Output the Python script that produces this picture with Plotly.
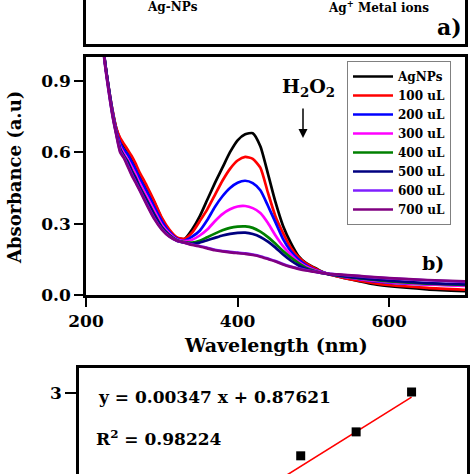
import plotly.graph_objects as go

W = 474.0
H = 474.0

# ---------------- data (panel b) ----------------
wavelength = [200, 210, 215, 220, 225, 230, 235, 240, 245, 250,
              255, 260, 265, 270, 280, 290, 300, 310, 320, 330,
              340, 350, 360, 370, 380, 390, 400, 410, 420, 430,
              440, 450, 460, 470, 480, 490, 500, 510, 520, 540,
              560, 580, 600, 650, 700]

agnps = [1.95, 1.55, 1.36, 1.14, 0.98, 0.87, 0.775, 0.70, 0.655, 0.628,
         0.605, 0.575, 0.545, 0.51, 0.45, 0.39, 0.32, 0.27, 0.24, 0.235,
         0.275, 0.33, 0.40, 0.47, 0.535, 0.60, 0.65, 0.675, 0.68, 0.625,
         0.51, 0.39, 0.29, 0.22, 0.165, 0.135, 0.117, 0.10, 0.088, 0.072,
         0.058, 0.045, 0.037, 0.024, 0.016]

ul100 = [1.95, 1.55, 1.36, 1.14, 0.98, 0.87, 0.775, 0.70, 0.66, 0.635,
         0.61, 0.585, 0.555, 0.52, 0.46, 0.395, 0.325, 0.275, 0.242, 0.236,
         0.262, 0.31, 0.36, 0.42, 0.48, 0.53, 0.565, 0.58, 0.572, 0.535,
         0.43, 0.33, 0.26, 0.20, 0.16, 0.133, 0.115, 0.099, 0.087, 0.072,
         0.06, 0.05, 0.042, 0.03, 0.022]

ul200 = [1.95, 1.55, 1.36, 1.14, 0.98, 0.87, 0.77, 0.69, 0.64, 0.61,
         0.59, 0.56, 0.53, 0.495, 0.435, 0.37, 0.31, 0.265, 0.237, 0.228,
         0.245, 0.27, 0.315, 0.37, 0.415, 0.45, 0.472, 0.48, 0.47, 0.44,
         0.375, 0.305, 0.235, 0.185, 0.15, 0.125, 0.108, 0.097, 0.088, 0.076,
         0.067, 0.058, 0.052, 0.045, 0.04]

ul300 = [1.95, 1.55, 1.36, 1.14, 0.98, 0.865, 0.765, 0.685, 0.625, 0.595,
         0.57, 0.54, 0.51, 0.475, 0.415, 0.355, 0.295, 0.258, 0.233, 0.226,
         0.232, 0.25, 0.275, 0.31, 0.34, 0.36, 0.372, 0.374, 0.365, 0.345,
         0.303, 0.25, 0.205, 0.17, 0.14, 0.12, 0.106, 0.096, 0.088, 0.077,
         0.068, 0.06, 0.054, 0.045, 0.038]

ul400 = [1.95, 1.55, 1.36, 1.14, 0.98, 0.865, 0.76, 0.68, 0.615, 0.585,
         0.56, 0.525, 0.495, 0.46, 0.40, 0.34, 0.285, 0.252, 0.23, 0.222,
         0.22, 0.228, 0.243, 0.258, 0.272, 0.282, 0.287, 0.288, 0.282, 0.266,
         0.243, 0.215, 0.185, 0.158, 0.135, 0.115, 0.103, 0.094, 0.088, 0.078,
         0.07, 0.063, 0.057, 0.048, 0.042]

ul500 = [1.95, 1.55, 1.36, 1.14, 0.98, 0.865, 0.76, 0.68, 0.612, 0.582,
         0.557, 0.522, 0.492, 0.457, 0.397, 0.337, 0.283, 0.25, 0.228, 0.22,
         0.215, 0.22, 0.23, 0.24, 0.25, 0.257, 0.261, 0.262, 0.256, 0.244,
         0.224, 0.199, 0.17, 0.145, 0.125, 0.11, 0.10, 0.093, 0.088, 0.079,
         0.072, 0.065, 0.06, 0.05, 0.045]

ul600 = [1.95, 1.55, 1.36, 1.13, 0.97, 0.855, 0.755, 0.675, 0.605, 0.578,
         0.545, 0.51, 0.478, 0.447, 0.383, 0.323, 0.277, 0.246, 0.228, 0.22,
         0.212, 0.206, 0.198, 0.19, 0.185, 0.181, 0.178, 0.175, 0.17, 0.163,
         0.153, 0.143, 0.13, 0.12, 0.112, 0.105, 0.099, 0.094, 0.09, 0.084,
         0.079, 0.074, 0.07, 0.062, 0.055]

ul700 = [1.95, 1.55, 1.36, 1.13, 0.97, 0.855, 0.752, 0.672, 0.60, 0.575,
         0.54, 0.505, 0.475, 0.445, 0.38, 0.32, 0.275, 0.245, 0.228, 0.22,
         0.21, 0.204, 0.196, 0.188, 0.183, 0.179, 0.176, 0.173, 0.168, 0.161,
         0.151, 0.141, 0.128, 0.118, 0.11, 0.103, 0.098, 0.093, 0.089, 0.085,
         0.08, 0.075, 0.071, 0.063, 0.057]

series_names = ["AgNPs", "100 uL", "200 uL", "300 uL", "400 uL", "500 uL", "600 uL", "700 uL"]
series_values = [agnps, ul100, ul200, ul300, ul400, ul500, ul600, ul700]
series_colors = ["#000000", "#ff0000", "#0000ff", "#ff00ff", "#008000", "#000080", "#7f1fff", "#800080"]

xticks_b = [200, 400, 600]
yticks_b = [0.0, 0.3, 0.6, 0.9]

# ---------------- data (panel c) ----------------
conc = [400, 500, 600]
response = [2.37, 2.61, 3.01]
fit_slope = 0.00347
fit_intercept = 0.87621
fit_x = [300, 600]

FONT = "DejaVu Serif"


def px_x(p):
    return p / W


def px_y(p):
    return 1 - p / H


fig = go.Figure()

for name, vals, col in zip(series_names, series_values, series_colors):
    fig.add_trace(go.Scatter(x=wavelength, y=vals, mode="lines", name=name,
                             line=dict(color=col, width=2.7, shape="spline", smoothing=0.6),
                             xaxis="x", yaxis="y"))

fig.add_trace(go.Scatter(x=fit_x, y=[fit_slope * v + fit_intercept for v in fit_x],
                         mode="lines", line=dict(color="#ff0000", width=1.6),
                         showlegend=False, xaxis="x3", yaxis="y3"))
fig.add_trace(go.Scatter(x=conc, y=response, mode="markers",
                         marker=dict(symbol="square", size=9, color="black"),
                         showlegend=False, xaxis="x3", yaxis="y3"))
# empty trace to create panel a frame
fig.add_trace(go.Scatter(x=[None], y=[None], showlegend=False, xaxis="x4", yaxis="y4"))

tickfont = dict(family=FONT, size=17, color="black", weight="bold")
axis_common = dict(showgrid=False, zeroline=False, showline=True, linecolor="black",
                   linewidth=2.6, ticks="outside", tickcolor="black", tickwidth=2.4,
                   tickfont=tickfont, automargin=False)
frame_common = dict(showgrid=False, zeroline=False, showline=True, linecolor="black",
                    linewidth=2.6, showticklabels=False, ticks="", automargin=False)

fig.update_layout(
    template="none",
    width=474, height=474,
    margin=dict(l=0, r=0, t=0, b=0, pad=0, autoexpand=False),
    paper_bgcolor="white", plot_bgcolor="white",
    xaxis=dict(domain=[px_x(86), px_x(465)], range=[200, 700], tickvals=xticks_b,
               ticklen=9, mirror=True, anchor="y", **axis_common),
    yaxis=dict(domain=[px_y(295), px_y(57)], range=[0, 1.0], tickvals=yticks_b,
               tickformat=".1f", ticklen=9, mirror=True, anchor="x", **axis_common),
    xaxis3=dict(domain=[px_x(79), px_x(467)], range=[0, 700], side="top",
                anchor="y3", **frame_common),
    yaxis3=dict(domain=[0, px_y(368)], range=[3 - 81 / 99.7, 3 + 25 / 99.7],
                tickvals=[2, 3], ticklen=11, mirror=True, anchor="x3", **axis_common),
    xaxis4=dict(domain=[px_x(86), px_x(465)], range=[0, 1], side="bottom",
                anchor="y4", **frame_common),
    yaxis4=dict(domain=[px_y(44), 1], range=[0, 1], mirror=True, anchor="x4",
                **frame_common),
    showlegend=True,
    legend=dict(x=px_x(347), y=px_y(61), xanchor="left", yanchor="top",
                bgcolor="white", bordercolor="#808080", borderwidth=1,
                font=dict(family=FONT, size=12, color="black", weight="bold"),
                itemwidth=40, tracegroupgap=0),
)

def ann(text, x, y, size, xanchor="center", yanchor="middle", angle=0):
    fig.add_annotation(text=text, x=px_x(x), y=px_y(y), xref="paper", yref="paper",
                       showarrow=False, xanchor=xanchor, yanchor=yanchor, textangle=angle,
                       font=dict(family=FONT, size=size, color="black", weight="bold"))

ann("Absorbance (a.u)", 14, 178, 18, angle=-90)
ann("Wavelength (nm)", 276, 345, 19)
ann("b)", 433, 263, 19)
ann("H<sub>2</sub>O<sub>2</sub>", 308, 88, 19)
ann("a)", 449, 27, 22)
ann("Ag-NPs", 172, 7, 12)
ann("Ag<sup>+</sup> Metal ions", 378, 7, 12)
ann("y = 0.00347 x + 0.87621", 96, 397, 17, xanchor="left")
ann("R<sup>2</sup> = 0.98224", 94, 438, 17, xanchor="left")

fig.add_annotation(text="", x=px_x(303), y=px_y(138), xref="paper", yref="paper",
                   showarrow=True, ax=0, ay=-31, arrowhead=2, arrowsize=1.2,
                   arrowwidth=1.5, arrowcolor="black")

fig.write_html("out.html")
